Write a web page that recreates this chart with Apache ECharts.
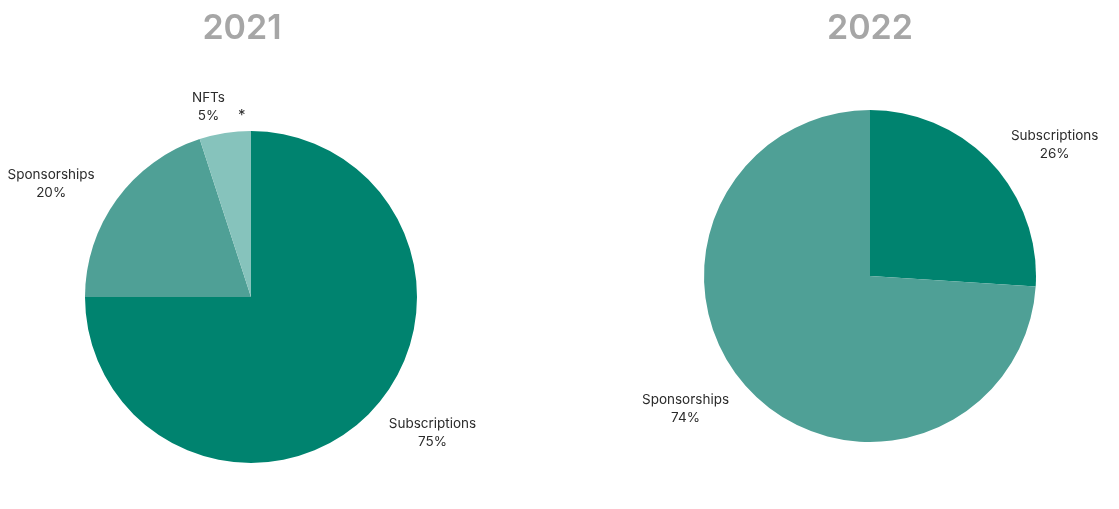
<!DOCTYPE html>
<html>
<head>
<meta charset="utf-8">
<script src="https://cdn.jsdelivr.net/npm/echarts@6/dist/echarts.min.js"></script>
<style>
html,body{margin:0;padding:0;background:#fff;}
#chart{width:1119px;height:509px;}
</style>
</head>
<body>
<div id="chart"></div>
<script>
var titles = ['2021', '2022'];
var categories2021 = ['Subscriptions', 'Sponsorships', 'NFTs'];
var values2021 = [75, 20, 5];
var categories2022 = ['Subscriptions', 'Sponsorships'];
var values2022 = [26, 74];
var colorMap = { 'Subscriptions': '#00836f', 'Sponsorships': '#4fa096', 'NFTs': '#86c3bc' };

function buildData(cats, vals) {
  return cats.map(function (c, i) {
    return { name: c, value: vals[i], itemStyle: { color: colorMap[c] } };
  });
}

var labelStyle = {
  show: true,
  position: 'outside',
  formatter: '{b}\n{d}%',
  fontFamily: 'Inter',
  fontSize: 13.5,
  lineHeight: 18,
  color: '#2b2b2b',
  overflow: 'none'
};

function makeLayout(nudge) {
  return function (p) {
    var n = nudge[p.dataIndex] || [0, 0];
    return {
      x: p.labelRect.x + p.labelRect.width / 2 + n[0],
      y: p.labelRect.y + p.labelRect.height / 2 + n[1],
      align: 'center',
      verticalAlign: 'middle'
    };
  };
}

var titleStyle = { fontFamily: 'Inter', fontWeight: 600, fontSize: 34, color: '#a6a6a6' };

var chart = echarts.init(document.getElementById('chart'));
chart.setOption({
  animation: false,
  title: [
    { text: titles[0], left: 237, top: 7, textAlign: 'center', textStyle: titleStyle },
    { text: titles[1], left: 865, top: 7, textAlign: 'center', textStyle: titleStyle }
  ],
  graphic: [
    { type: 'text', left: 238, top: 108, style: { text: '*', fontFamily: 'Inter', fontSize: 15, fill: '#2b2b2b' } }
  ],
  series: [
    {
      type: 'pie',
      center: [251, 297],
      radius: [0, 166],
      startAngle: 90,
      clockwise: true,
      data: buildData(categories2021, values2021),
      label: labelStyle,
      labelLine: { show: false, length: 26, length2: 0 },
      labelLayout: makeLayout({ 0: [-3, 0], 1: [4, 0], 2: [9, 0] }),
      emphasis: { disabled: true }
    },
    {
      type: 'pie',
      center: [870, 276],
      radius: [0, 166],
      startAngle: 90,
      clockwise: true,
      data: buildData(categories2022, values2022),
      label: labelStyle,
      labelLine: { show: false, length: 26, length2: 0 },
      labelLayout: makeLayout({ 0: [-4, 0], 1: [4, 2] }),
      emphasis: { disabled: true }
    }
  ]
});
</script>
</body>
</html>
